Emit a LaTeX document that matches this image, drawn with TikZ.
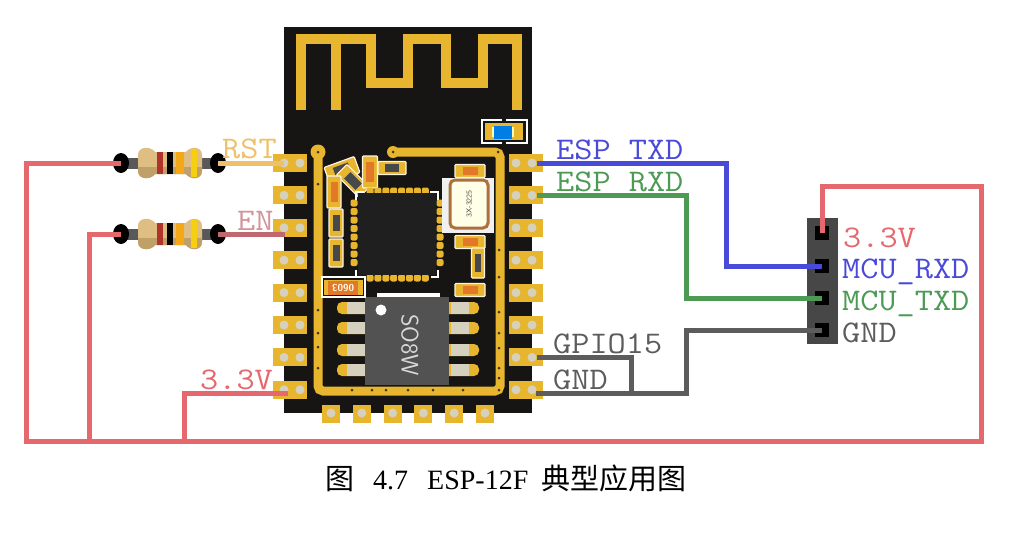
\documentclass[tikz,border=0pt]{standalone}
\usepackage{fontspec}
\setmainfont{Liberation Serif}
\newfontfamily\cjk{Noto Sans CJK SC}
\newfontfamily\wirefont[FakeStretch=1.12]{Latin Modern Mono}
\usetikzlibrary{positioning, calc}
\definecolor{boardblack}{RGB}{22,21,20}
\definecolor{gold}{RGB}{232,182,46}
\definecolor{holegray}{RGB}{214,208,190}
\definecolor{wirered}{RGB}{229,104,110}
\definecolor{wireblue}{RGB}{74,74,216}
\definecolor{wiregreen}{RGB}{76,154,84}
\definecolor{wiregray}{RGB}{92,92,92}
\definecolor{wiretan}{RGB}{238,192,106}
\definecolor{wirepink}{RGB}{192,104,112}
\definecolor{restan}{RGB}{222,190,130}
\definecolor{resshade}{RGB}{190,160,104}
\definecolor{resred}{RGB}{176,52,44}
\definecolor{resorange}{RGB}{244,168,24}
\definecolor{resyellow}{RGB}{246,208,16}
\definecolor{partorange}{RGB}{226,120,40}
\definecolor{partgray}{RGB}{70,72,74}
\definecolor{crystalbrown}{RGB}{172,112,60}
\tikzset{
  pad/.style={rectangle, fill=gold, minimum width=34, minimum height=18, inner sep=0},
  botpad/.style={rectangle, fill=gold, minimum width=18, minimum height=18, inner sep=0},
  hole/.style={circle, fill=holegray, minimum size=9, inner sep=0},
  leg/.style={rectangle, rounded corners=5, fill=gold, minimum width=42, minimum height=12, inner sep=0},
  chippad/.style={rectangle, rounded corners=2, fill=gold, minimum width=7, minimum height=7, inner sep=0},
  via/.style={circle, fill=boardblack!80!gold, minimum size=3, inner sep=0},
  part/.style={rectangle, rounded corners=1, draw=white!85!gold, line width=1.2, fill=gold, inner sep=0},
  partcore/.style={rectangle, inner sep=0},
  pin/.style={rectangle, fill=black, minimum size=14, inner sep=0},
  lead/.style={ellipse, fill=black, minimum width=16, minimum height=20, inner sep=0},
  wire/.style={line width=5, line join=miter},
  wirelabel/.style={anchor=base west, inner sep=0, font=\wirefont\fontsize{31.5}{32}\selectfont},
}
\usetikzlibrary{shapes.geometric}
\begin{document}
\begin{tikzpicture}[x=1pt, y=-1pt]
\useasboundingbox (0,0) rectangle (1021,544);

% Board
\fill[boardblack] (284,27) rectangle (532,413);

% Antenna
\draw[gold, line width=9.5] (301,110) -- (301,39) -- (371,39) -- (371,83) -- (408,83) -- (408,39)
  -- (446,39) -- (446,83) -- (483,83) -- (483,39) -- (517,39) -- (517,110);
\draw[gold, line width=9.5] (336,39) -- (336,110);

% LED
\draw[white, line width=1.5] (502,120) -- (482,120) -- (482,143) -- (502,143);
\draw[white, line width=1.5] (506,120) -- (527,120) -- (527,143) -- (506,143);
\fill[gold] (485,123) rectangle (523,140);
\fill[white!70!yellow] (492,127) rectangle (514,137);
\node[partcore, fill=blue!45!cyan!90!black, minimum width=18, minimum height=13] (led) at (503,132) {};

% Frame on the board
\draw[gold, line width=9, rounded corners=5] (393,152) -- (500,152) -- (500,391) -- (318,391) -- (318,152);
\fill[gold] (318,152) circle (7.5);
\fill[gold] (393,152) circle (6);
\foreach \px/\py in {318/152,318/184,318/310,318/333,318/347,318/368,393/152,498/152,
                     499/250,499/277,499/312,499/333,499/348,499/368,499/378,499/390,
                     352/390,372/390,386/390,408/390,433/390,463/390} {
    \node[via] at (\px,\py) {};
}

% Pads with holes
\foreach \i in {1,...,8} {
    \node[pad] (padL\i) at (290,{163+(\i-1)*32.4}) {};
    \node[hole] (holeL\i) at (284,{163+(\i-1)*32.4}) {};
    \node[hole] at (300,{163+(\i-1)*32.4}) {};
    \node[pad] (padR\i) at (526,{163+(\i-1)*32.4}) {};
    \node[hole] at (516,{163+(\i-1)*32.4}) {};
    \node[hole] (holeR\i) at (532,{163+(\i-1)*32.4}) {};
}
\foreach \i in {1,...,6} {
    \node[botpad] (padB\i) at ({331+(\i-1)*30.8},414) {};
    \node[hole] at ({331+(\i-1)*30.8},413) {};
}

% Small parts
\foreach \px/\py/\rot/\pw/\ph/\pc in {342/170/20/32/17/partgray,353/181/-45/32/15/partgray,
    370/172/0/15/32/partorange,392/168/0/28/13/partgray,334/192/0/14/32/partorange,
    336/223/0/14/28/partgray,336/253/0/14/28/partgray,470/171/0/30/13/partorange,
    470/242/0/30/13/partorange,478/263/0/13/30/partgray,470/290/0/30/13/partorange} {
    \node[part, rotate=\rot, minimum width=\pw, minimum height=\ph] at (\px,\py) {};
    \node[partcore, rotate=\rot, fill=\pc, minimum width={0.5*\pw}, minimum height={0.6*\ph}] at (\px,\py) {};
}

% Main chip
\foreach \i in {0,...,7} {
    \node[chippad] at ({370+\i*7.9},191) {};
    \node[chippad] at ({370+\i*7.9},278) {};
    \node[chippad] at (354,{203+\i*8.5}) {};
    \node[chippad] at (440,{203+\i*8.5}) {};
}
\draw[white, line width=1.5] (356,200) -- (356,192) -- (364,192);
\draw[white, line width=1.5] (430,192) -- (438,192) -- (438,200);
\draw[white, line width=1.5] (438,270) -- (438,277) -- (431,277);
\draw[white, line width=1.5] (356,270) -- (356,277);
\node[rectangle, fill=black!88, minimum width=78, minimum height=82, inner sep=0] (chip) at (397,234) {};

% Crystal
\fill[white!94!black] (442,178) rectangle (494,233);
\node[rectangle, rounded corners=5, draw=crystalbrown, line width=3, fill=white!90!yellow,
      minimum width=38, minimum height=48, inner sep=0] (crystal) at (469,204) {};
\node[rotate=90, inner sep=0, text=black!70, font=\sffamily\fontsize{7.5}{8}\selectfont] (crystaltext) at (469,204) {3X-3225};

% SO8 chip
\fill[white] (377,293) rectangle (440,298);
\foreach \ly in {308,328,350,370} {
    \node[leg] at (358,\ly) {};
    \node[rectangle, fill=holegray, minimum width=18, minimum height=12, inner sep=0] at (356,\ly) {};
    \node[leg] at (458,\ly) {};
    \node[rectangle, fill=holegray, minimum width=18, minimum height=12, inner sep=0] at (460,\ly) {};
}
\node[rectangle, fill=black!68, minimum width=84, minimum height=88, inner sep=0] (soic) at (407,341) {};
\node[circle, fill=white, minimum size=11, inner sep=0] (soicdot) at (381,310) {};
\node[rotate=-90, inner sep=0, text=white!85!black, font=\sffamily\fontsize{24}{24}\selectfont] (soictext) at (410,345) {SO8W};

% C0603 part
\draw[white, line width=1.5] (322,277) rectangle (365,297);
\fill[gold] (324,280) rectangle (363,295);
\node[partcore, fill=partorange, minimum width=30, minimum height=14, rotate=180,
      text=white!90!yellow, font=\sffamily\bfseries\fontsize{10}{10}\selectfont] (capC) at (343,288) {0603};

% Resistors
\foreach \rname/\ry in {A/163,B/234} {
\begin{scope}[shift={(0,\ry)}]
    \draw[line width=11, black!65] (121,0) -- (218,0);
    \fill[restan] (138,-8) .. controls (138,-17) and (151,-17) .. (155,-11) -- (186,-11)
        .. controls (190,-17) and (202,-17) .. (202,-8) -- (202,8)
        .. controls (202,17) and (190,17) .. (186,11) -- (155,11)
        .. controls (151,17) and (138,17) .. (138,8) -- cycle;
    \fill[resshade] (138,4) -- (202,4) -- (202,8) .. controls (202,17) and (190,17) .. (186,11)
        -- (155,11) .. controls (151,17) and (138,17) .. (138,8) -- cycle;
    \fill[resred] (157,-11) rectangle (163,11);
    \fill[black] (167,-11) rectangle (173,11);
    \fill[resorange] (176,-11) rectangle (184,11);
    \fill[resyellow] (191,-14) rectangle (197,14);
    \node[lead] (res\rname l) at (121,0) {};
    \node[lead] (res\rname r) at (218,0) {};
\end{scope}
}

% Header
\node[rectangle, fill=black!72, minimum width=31, minimum height=126, inner sep=0] (header) at (822,281) {};
\foreach \i/\hy in {1/233,2/266,3/298,4/330} {
    \node[pin] (pin\i) at (822,\hy) {};
}

% Wire corners
\coordinate (busA) at (26,441);
\coordinate (busB) at (89,441);
\coordinate (busC) at (184,441);
\coordinate (busD) at (981,441);
\coordinate (topR) at (981,186);
\coordinate (jointG) at (631,393);
\coordinate (endV) at (288,393);
\coordinate (endG) at (536,393);
\coordinate (endEN) at (285,234);

% Wires
\draw[wire, wirered] (resAl.center) -| (busA) -- (busD) -- (topR) -| (pin1.center);
\draw[wire, wirered] (resBl.center) -| (busB);
\draw[wire, wirered] (endV) -| (busC);
\draw[wire, wiretan] (resAr.center) -- (holeL1.center);
\draw[wire, wirepink] (resBr.center) -- (endEN);
\draw[wire, wireblue] (holeR1.east) -| (726,266) -- (pin2.center);
\draw[wire, wiregreen] (holeR2.east) -| (686,298) -- (pin3.center);
\draw[wire, wiregray] (holeR7.east) -| (jointG);
\draw[wire, wiregray] (endG) -| (686,330) -- (pin4.center);

% Labels
\node[wirelabel, text=wiretan] (lblRST) at (222,158) {RST};
\node[wirelabel, text=wirepink!70!white] (lblEN) at (237,230) {EN};
\node[wirelabel, text=wirered] (lblV) at (200,389) {3.3V};
\node[wirelabel, text=wireblue] (lblTXD) at (556,159) {ESP\_TXD};
\node[wirelabel, text=wiregreen] (lblRXD) at (556,191) {ESP\_RXD};
\node[wirelabel, text=wiregray] (lblIO) at (553,353) {GPIO15};
\node[wirelabel, text=wiregray] (lblGND) at (553,389) {GND};
\node[wirelabel, text=wirered] (lblHV) at (843,247) {3.3V};
\node[wirelabel, text=wireblue] (lblHR) at (842,278) {MCU\_RXD};
\node[wirelabel, text=wiregreen] (lblHT) at (842,310) {MCU\_TXD};
\node[wirelabel, text=wiregray] (lblHG) at (842,342) {GND};

% Caption
\node[anchor=base west, inner sep=0, font=\fontsize{28}{30}\selectfont] (caption) at (325,489)
  {{\fontsize{29}{30}\selectfont\cjk 图}\hspace{19pt}4.7\hspace{19pt}ESP-12F\hspace{13pt}{\fontsize{29}{30}\selectfont\cjk 典型应用图}};
\end{tikzpicture}
\end{document}
